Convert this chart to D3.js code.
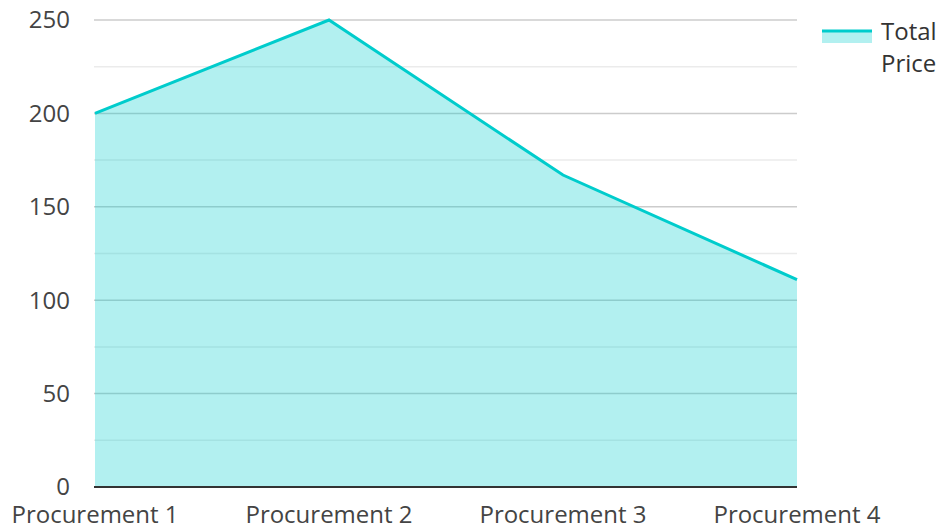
<!DOCTYPE html>
<meta charset="utf-8">
<script src="https://d3js.org/d3.v7.min.js"></script>
<style>
  body { margin: 0; background: #fff; }
  text { font-family: "Open Sans", sans-serif; }
</style>
<div id="chart"></div>
<script>

// data
var categories = ["Procurement 1", "Procurement 2", "Procurement 3", "Procurement 4"];
var totalPrice = [200, 250, 167, 111];
var yTicks = [0, 50, 100, 150, 200, 250];
var seriesName = ["Total", "Price"];

var W = 939, H = 526;
var margin = {top: 20, right: 142, bottom: 39, left: 95};
var width = W - margin.left - margin.right,
    height = H - margin.top - margin.bottom;

var svg = d3.select("#chart").append("svg")
    .attr("width", W)
    .attr("height", H);

var g = svg.append("g")
    .attr("transform", "translate(" + margin.left + "," + margin.top + ")");

var x = d3.scalePoint()
  .domain(categories)
  .range([0, width]);

var y = d3.scaleLinear()
  .domain([0, 250])
  .range([height, 0]);

// minor grid
g.append("g").selectAll("line")
  .data(d3.range(25, 250, 50))
  .enter().append("line")
    .attr("x1", -1).attr("x2", width)
    .attr("y1", function(d) { return y(d); })
    .attr("y2", function(d) { return y(d); })
    .attr("stroke", "#ebebeb")
    .attr("stroke-width", 1.5);

// major grid
g.append("g").selectAll("line")
  .data(yTicks.slice(1))
  .enter().append("line")
    .attr("x1", -1).attr("x2", width)
    .attr("y1", function(d) { return y(d); })
    .attr("y2", function(d) { return y(d); })
    .attr("stroke", "#cccccc")
    .attr("stroke-width", 1.5);

// area + line
var pts = categories.map(function(c, i) { return {c: c, v: totalPrice[i]}; });

g.append("path")
  .datum(pts)
  .attr("fill", "rgba(0,204,204,0.3)")
  .attr("d", d3.area()
    .x(function(d) { return x(d.c); })
    .y0(height)
    .y1(function(d) { return y(d.v); }));

g.append("path")
  .datum(pts)
  .attr("fill", "none")
  .attr("stroke", "#00cccc")
  .attr("stroke-width", 3)
  .attr("d", d3.line()
    .x(function(d) { return x(d.c); })
    .y(function(d) { return y(d.v); }));

// baseline
g.append("line")
  .attr("x1", -1).attr("x2", width)
  .attr("y1", height).attr("y2", height)
  .attr("stroke", "#333")
  .attr("stroke-width", 2);

// y labels
g.append("g").selectAll("text")
  .data(yTicks)
  .enter().append("text")
    .attr("x", -25)
    .attr("y", function(d) { return y(d); })
    .attr("dy", "0.35em")
    .attr("text-anchor", "end")
    .attr("fill", "#444")
    .style("font-size", "24px")
    .text(function(d) { return d; });

// x labels
g.append("g").selectAll("text")
  .data(categories)
  .enter().append("text")
    .attr("x", function(d) { return x(d); })
    .attr("y", height + 36)
    .attr("text-anchor", "middle")
    .attr("fill", "#444")
    .style("font-size", "24px")
    .text(function(d) { return d; });

// legend
var lg = svg.append("g").attr("transform", "translate(822,31)");
lg.append("rect")
  .attr("x", 0).attr("y", 0)
  .attr("width", 50).attr("height", 12)
  .attr("fill", "rgba(0,204,204,0.3)");
lg.append("line")
  .attr("x1", 0).attr("x2", 50)
  .attr("y1", 0).attr("y2", 0)
  .attr("stroke", "#00cccc")
  .attr("stroke-width", 3);
lg.selectAll("text.lbl")
  .data(seriesName)
  .enter().append("text")
    .attr("class", "lbl")
    .attr("x", 59)
    .attr("y", function(d, i) { return 9 + i * 32; })
    .attr("fill", "#333")
    .style("font-size", "24px")
    .text(function(d) { return d; });

</script>
